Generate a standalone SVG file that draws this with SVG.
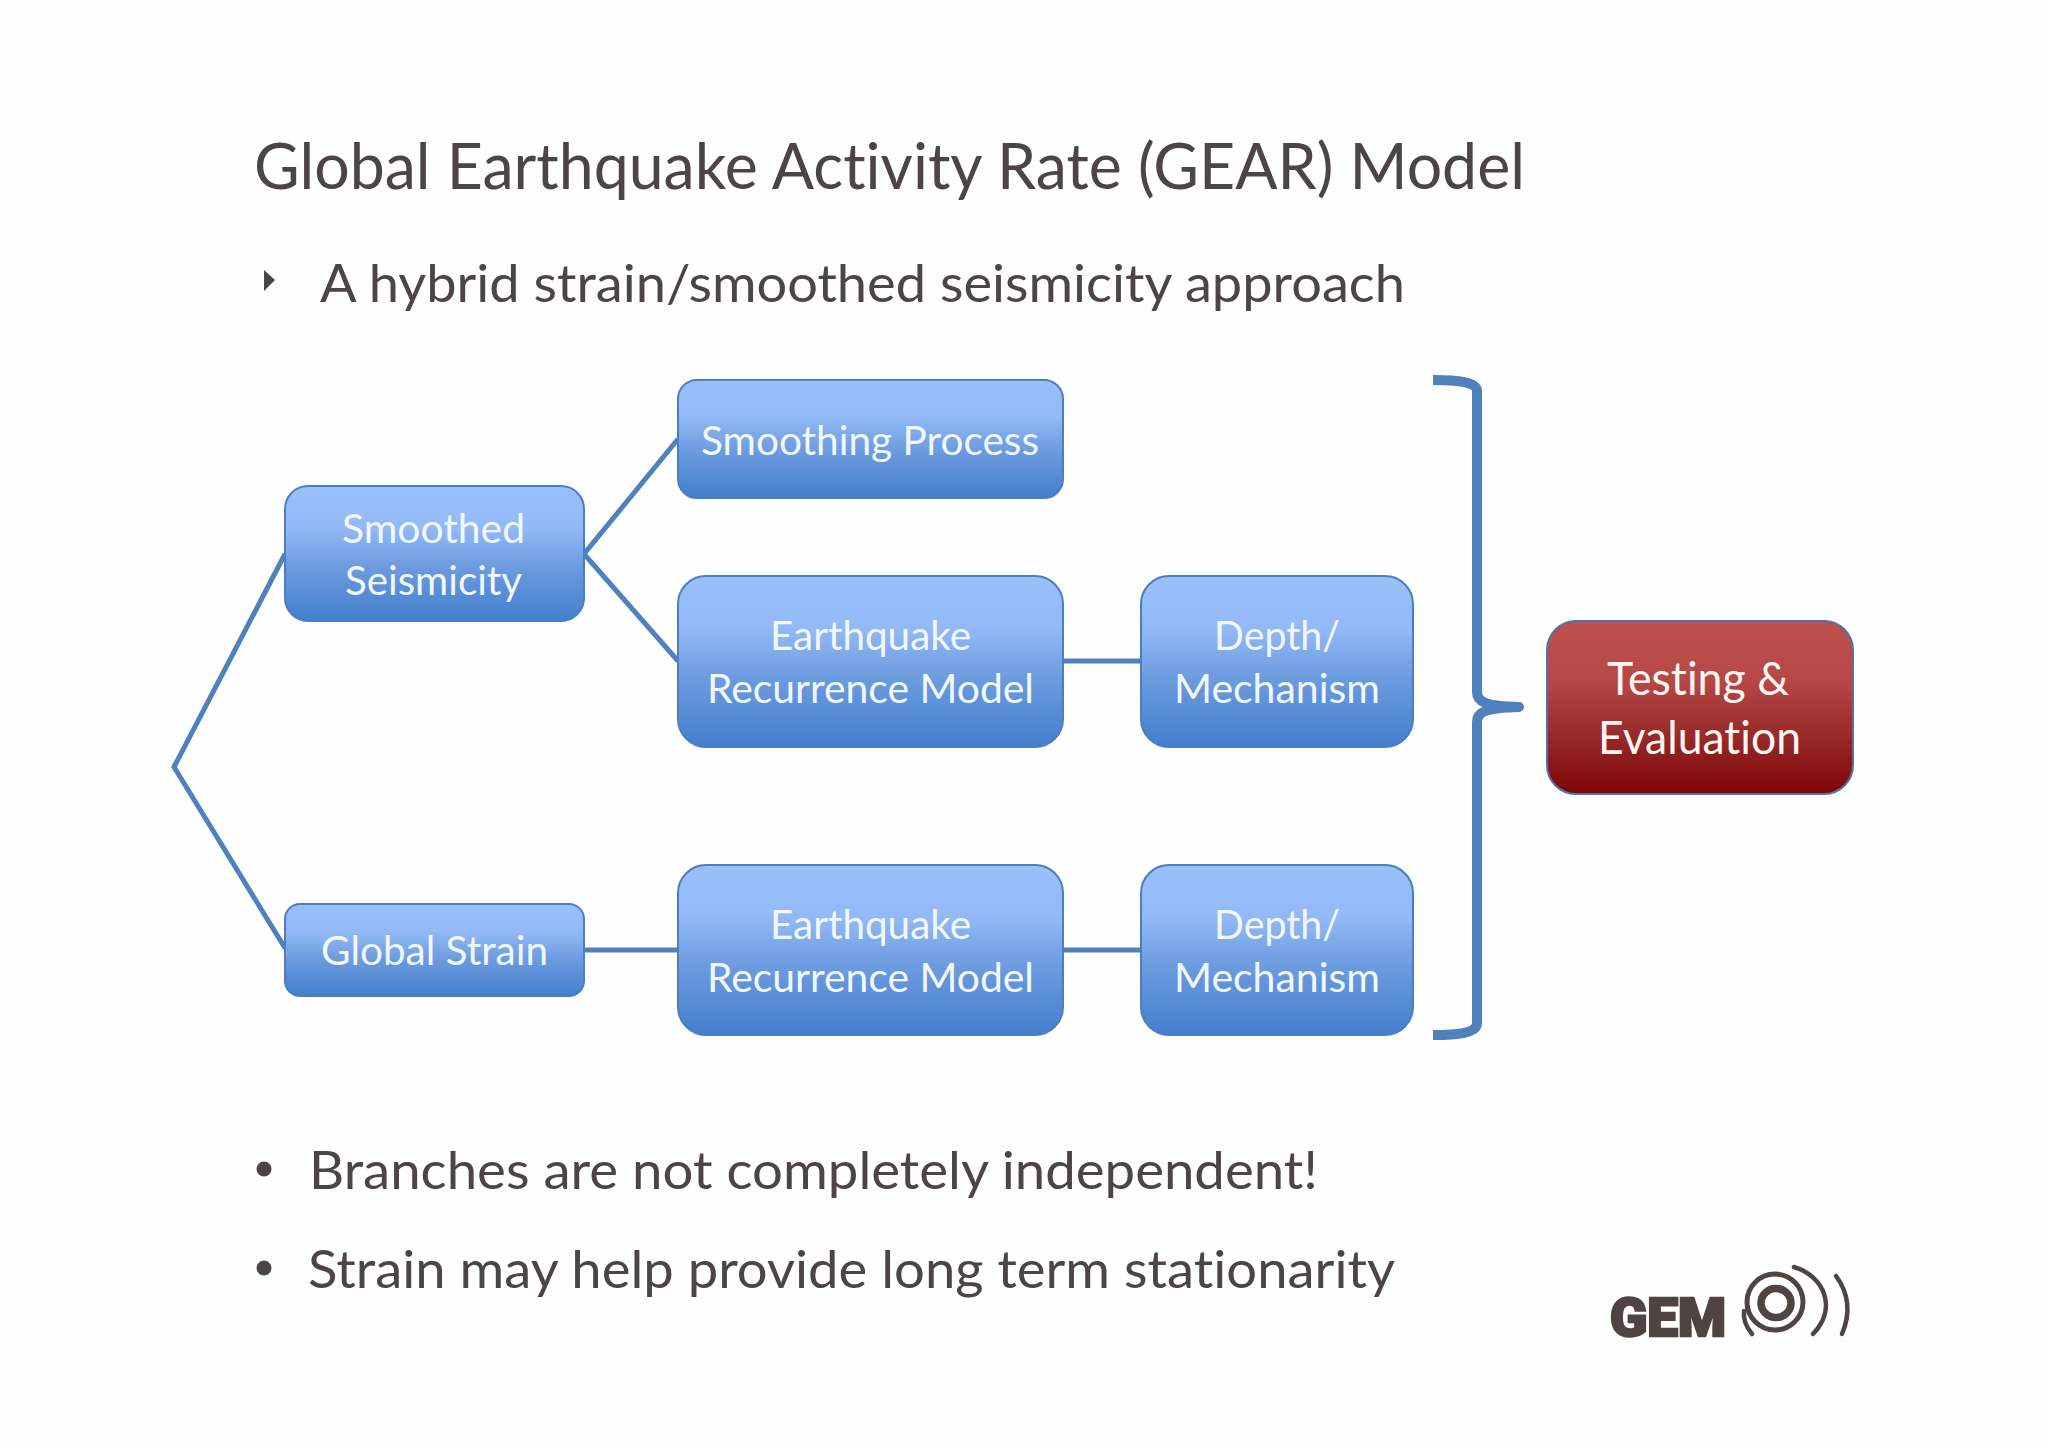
<svg xmlns="http://www.w3.org/2000/svg" width="2048" height="1448" viewBox="0 0 2048 1448">
<style>
text{font-family:Lato,"Open Sans","Liberation Sans",sans-serif;font-variant-ligatures:none}
.head{fill:#4d4545;font-size:63px}
.body{fill:#4d4545;font-size:52px}
.lbl{fill:#f2f7fe;font-size:41.5px;text-anchor:start}
.big{fill:#fff6f2;font-size:46px}
.blue{fill:url(#gb);stroke:#4c7fc0;stroke-width:2}
.red{fill:url(#gr);stroke:#4f72ab;stroke-width:2}
.conn{fill:none;stroke:#4f81bd;stroke-width:5}
.brace{fill:none;stroke:#4f81bd;stroke-width:10}
.logo{fill:none;stroke:#4f4441;stroke-linecap:round}
</style>
<defs>
<linearGradient id="gb" x1="0" y1="0" x2="0" y2="1"><stop offset="0" stop-color="#9ac0fc"/><stop offset=".3" stop-color="#93baf6"/><stop offset=".6" stop-color="#6c9bdf"/><stop offset="1" stop-color="#437fcd"/></linearGradient>
<linearGradient id="gr" x1="0" y1="0" x2="0" y2="1"><stop offset="0" stop-color="#c0504e"/><stop offset=".35" stop-color="#b54846"/><stop offset=".7" stop-color="#942626"/><stop offset="1" stop-color="#7f0506"/></linearGradient>
</defs>
<rect width="2048" height="1448" fill="#fefefe"/>
<g id="slide-text">
<text class="head" x="254" y="189" textLength="1271" lengthAdjust="spacingAndGlyphs">Global Earthquake Activity Rate (GEAR) Model</text>
<polygon points="264,270 275,280 264,291" fill="#4d4545"/>
<text class="body" x="320" y="302" textLength="1085" lengthAdjust="spacingAndGlyphs">A hybrid strain/smoothed seismicity approach</text>
<circle cx="264" cy="1169" r="7.5" fill="#4d4545"/>
<text class="body" x="309" y="1189" textLength="1009" lengthAdjust="spacingAndGlyphs">Branches are not completely independent!</text>
<circle cx="264" cy="1268" r="7.5" fill="#4d4545"/>
<text class="body" x="308" y="1288" textLength="1087" lengthAdjust="spacingAndGlyphs">Strain may help provide long term stationarity</text>
</g>
<g id="connectors">
<path class="conn" d="M285 554L174 767L285 948"/>
<path class="conn" d="M678 439L584 554L678 661"/>
<path class="conn" d="M1063 661H1141"/>
<path class="conn" d="M584 950H678"/>
<path class="conn" d="M1063 950H1141"/>
<path class="brace" d="M1433 380C1458 380 1477 382 1477 391V692C1477 702 1485 706 1519 707C1485 708 1477 712 1477 722V1023C1477 1033 1458 1035 1433 1035"/>
<circle cx="1519" cy="707" r="5" fill="#4f81bd"/>
</g>
<g id="node-smoothing-process"><rect class="blue" x="678" y="380" width="385" height="118" rx="19"/><text class="lbl" x="701" y="455" textLength="338" lengthAdjust="spacingAndGlyphs">Smoothing Process</text></g>
<g id="node-smoothed-seismicity"><rect class="blue" x="285" y="486" width="299" height="135" rx="23"/><text class="lbl" x="342" y="543" textLength="183" lengthAdjust="spacingAndGlyphs">Smoothed</text><text class="lbl" x="345" y="595" textLength="177" lengthAdjust="spacingAndGlyphs">Seismicity</text></g>
<g id="node-recurrence-1"><rect class="blue" x="678" y="576" width="385" height="171" rx="28"/><text class="lbl" x="770" y="650" textLength="201" lengthAdjust="spacingAndGlyphs">Earthquake</text><text class="lbl" x="707" y="703" textLength="327" lengthAdjust="spacingAndGlyphs">Recurrence Model</text></g>
<g id="node-depth-1"><rect class="blue" x="1141" y="576" width="272" height="171" rx="28"/><text class="lbl" x="1214" y="650" textLength="126" lengthAdjust="spacingAndGlyphs">Depth/</text><text class="lbl" x="1174" y="703" textLength="206" lengthAdjust="spacingAndGlyphs">Mechanism</text></g>
<g id="node-global-strain"><rect class="blue" x="285" y="904" width="299" height="92" rx="15"/><text class="lbl" x="321" y="965" textLength="227" lengthAdjust="spacingAndGlyphs">Global Strain</text></g>
<g id="node-recurrence-2"><rect class="blue" x="678" y="865" width="385" height="170" rx="28"/><text class="lbl" x="770" y="939" textLength="201" lengthAdjust="spacingAndGlyphs">Earthquake</text><text class="lbl" x="707" y="992" textLength="327" lengthAdjust="spacingAndGlyphs">Recurrence Model</text></g>
<g id="node-depth-2"><rect class="blue" x="1141" y="865" width="272" height="170" rx="28"/><text class="lbl" x="1214" y="939" textLength="126" lengthAdjust="spacingAndGlyphs">Depth/</text><text class="lbl" x="1174" y="992" textLength="206" lengthAdjust="spacingAndGlyphs">Mechanism</text></g>
<g id="node-testing"><rect class="red" x="1547" y="621" width="306" height="173" rx="29"/><text class="big" x="1607" y="695" textLength="182" lengthAdjust="spacingAndGlyphs">Testing &amp;</text><text class="big" x="1598" y="754" textLength="203" lengthAdjust="spacingAndGlyphs">Evaluation</text></g>
<g id="logo">
<text x="1610" y="1336" textLength="116" lengthAdjust="spacingAndGlyphs" style="font-family:Roboto,'Liberation Sans',sans-serif;font-weight:900;font-size:54px;fill:#4f4441;stroke:#4f4441;stroke-width:2.5">GEM</text>
<ellipse class="logo" cx="1776" cy="1303" rx="15" ry="14.5" stroke-width="7.5"/>
<ellipse class="logo" cx="1775" cy="1302" rx="28" ry="28" stroke-width="5"/>
<path class="logo" stroke-width="4.5" d="M1794 1267C1824 1276 1838 1308 1813 1334"/>
<path class="logo" stroke-width="4.5" d="M1836 1276C1850 1295 1850 1315 1842 1334"/>
<path class="logo" stroke-width="4.5" d="M1744 1311C1743 1320 1747 1328 1752 1334"/>
</g>
</svg>
